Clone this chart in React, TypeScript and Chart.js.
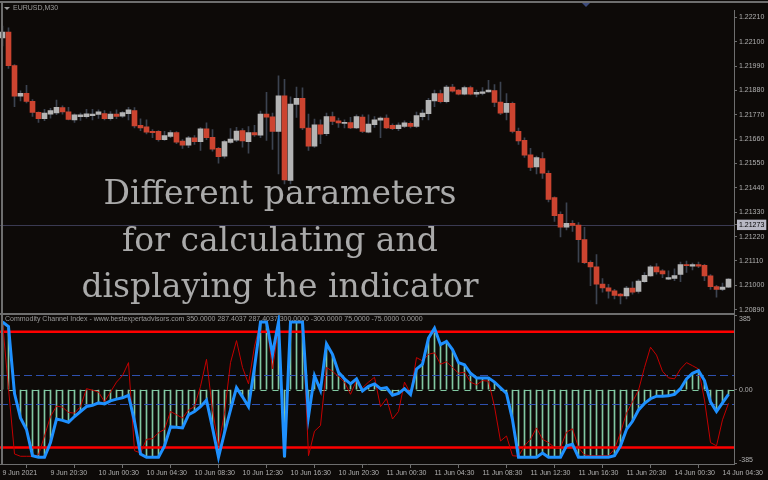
import { useEffect, useRef } from 'react';
import { Chart, registerables } from 'chart.js';

Chart.register(...registerables);

// ---- Data (EURUSD M30 candles) ----
const OPEN = [
  1.22117, 1.22143, 1.21992, 1.21854, 1.21867, 1.21830, 1.21781, 1.21752, 1.21773, 1.21778,
  1.21802, 1.21783, 1.21747, 1.21761, 1.21761, 1.21766, 1.21771, 1.21775, 1.21752, 1.21773,
  1.21764, 1.21775, 1.21789, 1.21722, 1.21716, 1.21695, 1.21695, 1.21658, 1.21672, 1.21689,
  1.21651, 1.21633, 1.21666, 1.21649, 1.21706, 1.21668, 1.21618, 1.21583, 1.21645, 1.21655,
  1.21698, 1.21649, 1.21689, 1.21678, 1.21773, 1.21761, 1.21695, 1.21855, 1.21473, 1.21817,
  1.21844, 1.21710, 1.21628, 1.21724, 1.21685, 1.21762, 1.21743, 1.21731, 1.21735, 1.21710,
  1.21759, 1.21691, 1.21725, 1.21746, 1.21755, 1.21722, 1.21707, 1.21717, 1.21731, 1.21717,
  1.21761, 1.21775, 1.21832, 1.21866, 1.21829, 1.21895, 1.21881, 1.21863, 1.21893, 1.21863,
  1.21866, 1.21873, 1.21879, 1.21827, 1.21780, 1.21822, 1.21695, 1.21654, 1.21589, 1.21535,
  1.21572, 1.21506, 1.21396, 1.21320, 1.21262, 1.21280, 1.21272, 1.21207, 1.21104, 1.21084,
  1.21006, 1.20989, 1.20975, 1.20960, 1.20952, 1.20988, 1.20972, 1.21016, 1.21043, 1.21084,
  1.21065, 1.21028, 1.21031, 1.21049, 1.21094, 1.21086, 1.21094, 1.21090, 1.21043, 1.20994,
  1.20981, 1.20992,
];
const HIGH = [
  1.22170, 1.22162, 1.21996, 1.21878, 1.21903, 1.21839, 1.21783, 1.21795, 1.21799, 1.21836,
  1.21810, 1.21804, 1.21774, 1.21777, 1.21795, 1.21795, 1.21792, 1.21789, 1.21784, 1.21792,
  1.21784, 1.21804, 1.21802, 1.21752, 1.21747, 1.21703, 1.21698, 1.21695, 1.21698, 1.21694,
  1.21658, 1.21673, 1.21676, 1.21712, 1.21733, 1.21703, 1.21623, 1.21654, 1.21707, 1.21713,
  1.21707, 1.21717, 1.21722, 1.21787, 1.21871, 1.21778, 1.21946, 1.21930, 1.21851, 1.21895,
  1.21891, 1.21773, 1.21750, 1.21747, 1.21777, 1.21782, 1.21755, 1.21747, 1.21758, 1.21770,
  1.21770, 1.21770, 1.21762, 1.21761, 1.21770, 1.21729, 1.21734, 1.21743, 1.21738, 1.21782,
  1.21792, 1.21844, 1.21881, 1.21881, 1.21903, 1.21907, 1.21885, 1.21899, 1.21899, 1.21881,
  1.21893, 1.21925, 1.21906, 1.21918, 1.21866, 1.21827, 1.21710, 1.21666, 1.21618, 1.21583,
  1.21599, 1.21517, 1.21400, 1.21332, 1.21372, 1.21292, 1.21283, 1.21262, 1.21111, 1.21139,
  1.21031, 1.21005, 1.20982, 1.20964, 1.20995, 1.21016, 1.21026, 1.21058, 1.21090, 1.21098,
  1.21071, 1.21065, 1.21075, 1.21105, 1.21110, 1.21100, 1.21105, 1.21095, 1.21049, 1.21000,
  1.21010, 1.21031,
];
const LOW = [
  1.22081, 1.21979, 1.21806, 1.21832, 1.21823, 1.21762, 1.21735, 1.21743, 1.21755, 1.21770,
  1.21773, 1.21747, 1.21735, 1.21744, 1.21755, 1.21747, 1.21753, 1.21747, 1.21745, 1.21752,
  1.21758, 1.21747, 1.21710, 1.21698, 1.21684, 1.21666, 1.21651, 1.21654, 1.21667, 1.21639,
  1.21618, 1.21621, 1.21636, 1.21609, 1.21658, 1.21606, 1.21551, 1.21574, 1.21640, 1.21649,
  1.21624, 1.21596, 1.21672, 1.21666, 1.21654, 1.21614, 1.21503, 1.21458, 1.21458, 1.21758,
  1.21703, 1.21609, 1.21623, 1.21639, 1.21676, 1.21725, 1.21713, 1.21710, 1.21707, 1.21707,
  1.21689, 1.21688, 1.21713, 1.21666, 1.21707, 1.21703, 1.21698, 1.21712, 1.21710, 1.21712,
  1.21747, 1.21747, 1.21806, 1.21823, 1.21823, 1.21872, 1.21859, 1.21859, 1.21859, 1.21851,
  1.21859, 1.21872, 1.21806, 1.21770, 1.21747, 1.21688, 1.21636, 1.21577, 1.21517, 1.21503,
  1.21483, 1.21377, 1.21288, 1.21218, 1.21250, 1.21243, 1.21105, 1.21098, 1.20998, 1.20916,
  1.20969, 1.20942, 1.20939, 1.20916, 1.20939, 1.20960, 1.20965, 1.21013, 1.21040, 1.21050,
  1.21035, 1.21025, 1.21021, 1.21016, 1.21058, 1.21070, 1.21080, 1.21021, 1.20981, 1.20946,
  1.20976, 1.20989,
];
const CLOSE = [
  1.22143, 1.21992, 1.21854, 1.21867, 1.21830, 1.21781, 1.21752, 1.21777, 1.21789, 1.21804,
  1.21783, 1.21749, 1.21770, 1.21770, 1.21774, 1.21773, 1.21783, 1.21752, 1.21773, 1.21762,
  1.21780, 1.21792, 1.21719, 1.21710, 1.21691, 1.21689, 1.21658, 1.21676, 1.21689, 1.21646,
  1.21633, 1.21666, 1.21649, 1.21706, 1.21666, 1.21615, 1.21581, 1.21649, 1.21660, 1.21696,
  1.21652, 1.21689, 1.21679, 1.21773, 1.21759, 1.21695, 1.21855, 1.21476, 1.21818, 1.21844,
  1.21710, 1.21628, 1.21725, 1.21682, 1.21762, 1.21740, 1.21733, 1.21735, 1.21710, 1.21762,
  1.21695, 1.21728, 1.21747, 1.21755, 1.21710, 1.21707, 1.21723, 1.21733, 1.21717, 1.21766,
  1.21778, 1.21835, 1.21866, 1.21829, 1.21895, 1.21876, 1.21863, 1.21893, 1.21863, 1.21871,
  1.21873, 1.21881, 1.21826, 1.21777, 1.21822, 1.21695, 1.21652, 1.21588, 1.21532, 1.21577,
  1.21506, 1.21388, 1.21314, 1.21262, 1.21280, 1.21270, 1.21206, 1.21102, 1.21083, 1.21005,
  1.20988, 1.20974, 1.20955, 1.20952, 1.20988, 1.20969, 1.21019, 1.21045, 1.21084, 1.21061,
  1.21052, 1.21035, 1.21044, 1.21094, 1.21089, 1.21094, 1.21086, 1.21043, 1.20994, 1.20981,
  1.20992, 1.21028,
];

// ---- CCI indicator (main = thick blue + histogram, signal = thin red) ----
const CCI_MAIN = [
  350, 327, -20, -147, -206, -342, -350, -350, -274, -152,
  -159, -169, -139, -113, -88, -81, -68, -74, -58, -49,
  -42, -29, -164, -333, -350, -350, -350, -291, -193, -195,
  -198, -130, -113, -88, -54, -198, -350, -223, -105, 10,
  -37, -88, 115, 350, 350, 183, 350, -350, 350, 350,
  350, -139, 73, -3, 237, 183, 90, 56, 30, 56,
  -7, 17, 30, 5, 10, -29, -20, 5, -25, 107,
  132, 267, 318, 233, 250, 208, 140, 129, 85, 61,
  61, 61, 39, 10, -20, -156, -350, -350, -350, -350,
  -328, -350, -350, -350, -291, -283, -350, -350, -350, -350,
  -350, -350, -342, -291, -206, -164, -105, -71, -47, -34,
  -34, -32, -24, 5, 56, 85, 98, 47, -63, -113,
  -68, -25,
];
const CCI_SIGNAL = [
  350, 5, -333, -345, -345, -345, -338, -240, -139, -85,
  -91, -118, -122, -88, 5, -3, -12, -63, -12, 39,
  73, 140, -316, -328, -257, -254, -223, -206, -113, -130,
  -147, -105, -88, 17, 157, -105, -291, -122, 140, 254,
  115, 30, 225, 350, 350, 107, 318, -274, 350, 350,
  350, -342, -215, -186, 115, 95, 68, 39, -24, 47,
  10, 39, 64, -88, -46, -152, -113, 39, -20, 166,
  149, 183, 191, 132, 144, 115, 85, 90, 39, 25,
  47, 44, -88, -266, -240, -342, -345, -291, -257, -198,
  -257, -274, -300, -300, -220, -203, -300, -338, -342, -342,
  -342, -342, -308, -223, -122, -63, -3, 115, 220, 179,
  95, 61, 56, 107, 140, 124, 107, -54, -274, -291,
  -156, -71,
];
const CCI_OUTER_LEVELS = [300, -300];
const CCI_INNER_LEVELS = [75, -75];
const CCI_ZERO_LEVEL = 0;

// ---- Axes ----
const TICK_LABELS = [
  '9 Jun 2021', '9 Jun 20:30', '10 Jun 00:30', '10 Jun 04:30', '10 Jun 08:30', '10 Jun 12:30',
  '10 Jun 16:30', '10 Jun 20:30', '11 Jun 00:30', '11 Jun 04:30', '11 Jun 08:30', '11 Jun 12:30',
  '11 Jun 16:30', '11 Jun 20:30', '14 Jun 00:30', '14 Jun 04:30',
];
const BARS_PER_TICK = 8;
const PRICE_TICKS = [
  1.2089, 1.21, 1.2111, 1.2122, 1.2133, 1.2144, 1.2155, 1.2166, 1.2177, 1.2188, 1.2199, 1.221, 1.2221,
];
const CURRENT_PRICE = 1.21273;
const CCI_TICKS = [385, 0, -385];

const BG = '#0d0a08';
const FRAME = '#6e6e6e';
const LABEL = '#b0b0b0';
const HIST = '#82c8a2';
const FONT = { family: '"Liberation Sans", Arial, sans-serif', size: 7 };

const hLine = (ctx: any, area: any, py: number) => {
  ctx.beginPath();
  ctx.moveTo(area.left, py);
  ctx.lineTo(area.right, py);
  ctx.stroke();
};

const mtPlugin = {
  id: 'mtPlugin',
  beforeDatasetsDraw(chart: any) {
    const { ctx, chartArea } = chart;
    const y = chart.scales.y;
    ctx.save();
    ctx.strokeStyle = '#3a3a52';
    ctx.lineWidth = 1;
    hLine(ctx, chartArea, Math.round(y.getPixelForValue(CURRENT_PRICE)) + 0.5);
    ctx.restore();
  },
  afterDatasetDraw(chart: any, args: any) {
    if (args.index !== 2) return;
    const { ctx, chartArea } = chart;
    const y2 = chart.scales.y2;
    ctx.save();
    ctx.lineWidth = 1;
    // zero level (dashed, histogram colour)
    ctx.strokeStyle = HIST;
    ctx.setLineDash([6, 6]);
    ctx.lineDashOffset = 3.5;
    hLine(ctx, chartArea, Math.round(y2.getPixelForValue(CCI_ZERO_LEVEL)) + 0.5);
    // ±75 dashed blue
    ctx.strokeStyle = '#2e50ae';
    ctx.setLineDash([8, 4]);
    ctx.lineDashOffset = 0;
    for (const v of CCI_INNER_LEVELS) hLine(ctx, chartArea, Math.round(y2.getPixelForValue(v)) + 0.5);
    // ±300 solid red
    ctx.setLineDash([]);
    ctx.strokeStyle = '#ff0000';
    ctx.lineWidth = 2.5;
    for (const v of CCI_OUTER_LEVELS) hLine(ctx, chartArea, y2.getPixelForValue(v));
    ctx.restore();
  },
  afterDraw(chart: any) {
    const { ctx, chartArea, width } = chart;
    const y = chart.scales.y;
    ctx.save();
    ctx.fillStyle = FRAME;
    ctx.fillRect(0, 1, width, 2);
    ctx.fillRect(1, 1, 2, chartArea.bottom - 1);
    ctx.fillRect(0, Math.round(y.bottom), chartArea.right, 2);
    ctx.restore();
  },
};

export default function App() {
  const ref = useRef<HTMLCanvasElement | null>(null);

  useEffect(() => {
    document.body.style.margin = '0';
    document.body.style.background = BG;
    const canvas = ref.current;
    if (!canvas) return;
    const xy = (arr: number[]) => arr.map((v, i) => ({ x: i, y: v }));
    const bodyColors = OPEN.map((o, i) => (CLOSE[i] >= o ? '#b4b4b4' : '#cc4430'));

    const chart = new Chart(canvas, {
      type: 'bar',
      data: {
        datasets: [
          {
            type: 'bar',
            yAxisID: 'y',
            data: LOW.map((l, i) => ({ x: i, y: [l, HIGH[i]] })) as any,
            backgroundColor: '#3c4350',
            barThickness: 1,
            grouped: false,
            order: 5,
          },
          {
            type: 'bar',
            yAxisID: 'y',
            data: OPEN.map((o, i) => ({ x: i, y: [o, CLOSE[i]] })) as any,
            backgroundColor: bodyColors,
            barThickness: 5,
            minBarLength: 1,
            grouped: false,
            order: 4,
          },
          {
            type: 'bar',
            yAxisID: 'y2',
            data: xy(CCI_MAIN) as any,
            backgroundColor: HIST,
            borderWidth: 0,
            barThickness: 1,
            grouped: false,
            order: 3,
          },
          {
            type: 'line',
            yAxisID: 'y2',
            data: xy(CCI_SIGNAL) as any,
            borderColor: '#c40000',
            borderWidth: 1,
            pointRadius: 0,
            tension: 0,
            order: 2,
          },
          {
            type: 'line',
            yAxisID: 'y2',
            data: xy(CCI_MAIN) as any,
            borderColor: '#1e90ff',
            borderWidth: 3,
            pointRadius: 0,
            tension: 0,
            order: 1,
          },
        ],
      },
      options: {
        animation: false,
        responsive: true,
        maintainAspectRatio: false,
        events: [],
        layout: { padding: { top: 4, left: 0, right: 0, bottom: 0 } },
        plugins: { legend: { display: false }, tooltip: { enabled: false }, title: { display: false } },
        scales: {
          x: {
            type: 'linear',
            min: -2.5 / 6,
            max: -2.5 / 6 + 734 / 6,
            offset: false,
            afterFit: (s: any) => {
              s.height = 16;
            },
            afterBuildTicks: (axis: any) => {
              axis.ticks = TICK_LABELS.map((_, k) => ({ value: k * BARS_PER_TICK }));
            },
            grid: { display: true, drawOnChartArea: false, drawTicks: true, tickLength: 4, color: FRAME },
            border: { display: true, color: FRAME, width: 1 },
            ticks: {
              autoSkip: false,
              maxRotation: 0,
              align: 'start',
              padding: 1,
              color: LABEL,
              font: FONT,
              callback: (v: any) => TICK_LABELS[Math.round(Number(v) / BARS_PER_TICK)],
            },
          },
          y: {
            type: 'linear',
            position: 'right',
            stack: 'panes',
            stackWeight: 2,
            min: 1.20876,
            max: 1.22241,
            afterFit: (s: any) => {
              s.width = 34;
            },
            afterBuildTicks: (axis: any) => {
              axis.ticks = [...PRICE_TICKS, CURRENT_PRICE].map((value) => ({ value }));
            },
            grid: { display: true, drawOnChartArea: false, drawTicks: true, tickLength: 3, color: FRAME },
            border: { display: true, color: FRAME, width: 1 },
            ticks: {
              autoSkip: false,
              padding: 2,
              font: FONT,
              color: (c: any) => (c.tick && c.tick.value === CURRENT_PRICE ? '#000000' : LABEL),
              showLabelBackdrop: (c: any) => !!(c.tick && c.tick.value === CURRENT_PRICE),
              backdropColor: '#b8b8c4',
              backdropPadding: { top: 1, bottom: 1, left: 2, right: 2 },
              callback: (v: any) => Number(v).toFixed(5),
            },
          },
          y2: {
            type: 'linear',
            position: 'right',
            stack: 'panes',
            stackWeight: 1,
            min: -385,
            max: 398,
            afterFit: (s: any) => {
              s.width = 34;
            },
            afterBuildTicks: (axis: any) => {
              axis.ticks = CCI_TICKS.map((value) => ({ value }));
            },
            grid: { display: true, drawOnChartArea: false, drawTicks: true, tickLength: 3, color: FRAME },
            border: { display: true, color: FRAME, width: 1 },
            ticks: {
              autoSkip: false,
              padding: 2,
              font: FONT,
              color: LABEL,
              callback: (v: any) => {
                const n = Number(v);
                if (n > 0) return ['', String(n)];
                if (n < 0) return [String(n), ''];
                return '0.00';
              },
            },
          },
        },
      },
      plugins: [mtPlugin],
    });
    return () => chart.destroy();
  }, []);

  const small: any = {
    position: 'absolute',
    fontFamily: '"Liberation Sans", Arial, sans-serif',
    fontSize: '7px',
    lineHeight: '8px',
    color: '#9c9c9c',
    whiteSpace: 'nowrap',
    pointerEvents: 'none',
  };

  return (
    <div style={{ position: 'relative', width: 768, height: 480, background: BG, overflow: 'hidden' }}>
      <canvas ref={ref} style={{ position: 'absolute', left: 0, top: 0, width: 768, height: 480 }} />
      <div
        style={{
          position: 'absolute',
          left: 4,
          top: 7,
          width: 0,
          height: 0,
          borderLeft: '3px solid transparent',
          borderRight: '3px solid transparent',
          borderTop: '3px solid #9c9c9c',
        }}
      />
      <div
        style={{
          position: 'absolute',
          left: 582,
          top: 3,
          width: 0,
          height: 0,
          borderLeft: '4px solid transparent',
          borderRight: '4px solid transparent',
          borderTop: '4px solid #3c4a7a',
        }}
      />
      <div style={{ ...small, left: 13, top: 4 }}>EURUSD,M30</div>
      <div style={{ ...small, left: 5, top: 315 }}>
        Commodity Channel Index - www.bestexpertadvisors.com 350.0000 287.4037 287.4037 300.0000 -300.0000 75.0000
        -75.0000 0.0000
      </div>
      <div
        style={{
          position: 'absolute',
          left: 0,
          width: 560,
          top: 170,
          textAlign: 'center',
          fontFamily: '"DejaVu Serif", serif',
          fontSize: '33px',
          lineHeight: '46.5px',
          color: '#aaaaaa',
          pointerEvents: 'none',
        }}
      >
        Different parameters
        <br />
        for calculating and
        <br />
        displaying the indicator
      </div>
    </div>
  );
}
